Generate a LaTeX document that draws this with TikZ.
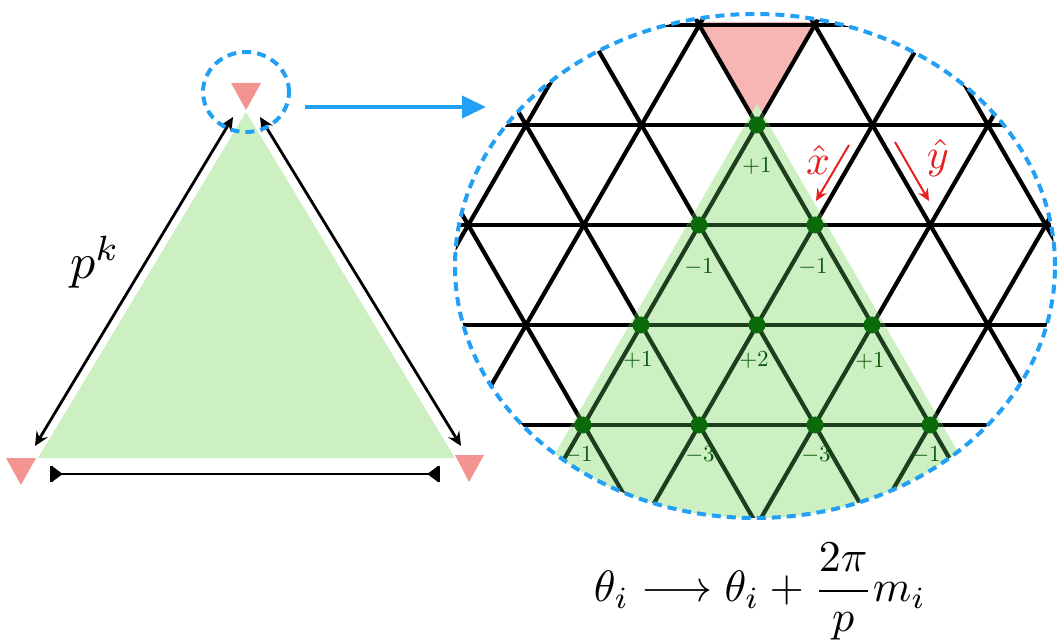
\documentclass[tikz,border=0pt]{standalone}
\usetikzlibrary{arrows.meta}
\definecolor{lgreen}{HTML}{CDF0C3}
\definecolor{dgreen}{HTML}{0B6B0B}
\definecolor{lined}{HTML}{1E3F1E}
\definecolor{pinkr}{HTML}{F49490}
\definecolor{pinkl}{HTML}{F7B6B4}
\definecolor{bl}{HTML}{22A0F5}
\definecolor{redar}{HTML}{E62020}
\tikzset{lat/.style={line width=4.2pt},
  dot/.style={circle,fill=dgreen,inner sep=0pt,minimum size=17pt},
  num/.style={text=dgreen!80!black,scale=2.3,inner sep=0pt},
  side/.style={line width=2.8pt,{Stealth[length=14pt,width=13pt,inset=5pt]}-{Stealth[length=14pt,width=13pt,inset=5pt]}},
  dashcirc/.style={bl,line width=4pt,dash pattern=on 9pt off 6pt}}
\newcommand{\latgrid}{%
\foreach \k in {0,...,5} \draw[lat] (440,25+100*\k) -- (1070,25+100*\k);
\foreach \j in {-9,...,9} {
  \draw[lat] ({757+115.5*\j-57.75*6},{125-600}) -- ({757+115.5*\j+57.75*6},{125+600});
  \draw[lat] ({757+115.5*\j+57.75*6},{125-600}) -- ({757+115.5*\j-57.75*6},{125+600});
}}
\begin{document}
\begin{tikzpicture}[x=1pt,y=-1pt]
\useasboundingbox (0,0) rectangle (1061,644);
% left triangle
\fill[lgreen] (246,112) -- (38,458) -- (455,458) -- cycle;
\fill[pinkr] (231,83) -- (261,83) -- (246,110) -- cycle;
\fill[pinkr] (6,458) -- (36,458) -- (21,485) -- cycle;
\fill[pinkr] (455,455) -- (484,455) -- (469,482) -- cycle;
\coordinate (la) at (35,446); \coordinate (lb) at (233,117);
\coordinate (ra) at (260,117); \coordinate (rb) at (461,446);
\draw[side] (la) -- (lb);
\draw[side] (ra) -- (rb);
\coordinate (ba) at (50,474); \coordinate (bb) at (440,474);
\draw[line width=2.8pt,{Bar[width=16pt]Triangle[reversed,length=10pt,width=14pt]}-{Triangle[reversed,length=10pt,width=14pt]Bar[width=16pt]}] (ba) -- (bb);
\node[scale=5] (pk) at (95,262) {$p^k$};
\draw[dashcirc] (246,92) ellipse [x radius=43pt,y radius=40pt];
\coordinate (aa) at (305,107); \coordinate (ab) at (486,107);
\draw[bl,line width=4pt,-{Triangle[length=24pt,width=22pt]}] (aa) -- (ab);
% zoomed lattice
\begin{scope}
\clip (755,266) ellipse [x radius=300pt,y radius=252pt];
\fill[pinkl] (699,22) -- (815,22) -- (757,122) -- cycle;
\begin{scope}[black]\latgrid\end{scope}
\fill[lgreen] (757,104) -- (460,618) -- (1054,618) -- cycle;
\clip (757,104) -- (460,618) -- (1054,618) -- cycle;
\begin{scope}[lined]\latgrid\end{scope}
\end{scope}
\draw[dashcirc] (755,266) ellipse [x radius=300pt,y radius=252pt];
\node[dot] (n1) at (757,125) {};
\node[dot] (n2) at (699,225) {}; \node[dot] (n3) at (815,225) {};
\node[dot] (n4) at (641,325) {}; \node[dot] (n5) at (757,325) {}; \node[dot] (n6) at (872,325) {};
\node[dot] (n7) at (583,425) {}; \node[dot] (n8) at (699,425) {}; \node[dot] (n9) at (815,425) {}; \node[dot] (n10) at (930,425) {};
\node[num] at (757,166) {$+1$};
\node[num] at (699,267) {$-1$}; \node[num] at (813,267) {$-1$};
\node[num] at (638,360) {$+1$}; \node[num] at (754,360) {$+2$}; \node[num] at (870,361) {$+1$};
\node[num] at (578,455) {$-1$}; \node[num] at (700,455) {$-3$}; \node[num] at (816,455) {$-3$}; \node[num] at (926,455) {$-1$};
\coordinate (xa) at (849,145); \coordinate (xb) at (816,201);
\coordinate (ya) at (895,142); \coordinate (yb) at (929,201);
\draw[redar,line width=2pt,-{Stealth[length=12pt,width=11pt]}] (xa) -- (xb);
\draw[redar,line width=2pt,-{Stealth[length=12pt,width=11pt]}] (ya) -- (yb);
\node[text=redar,scale=4.2] (xl) at (818,160) {$\hat x$};
\node[text=redar,scale=4.2] (yl) at (938,158) {$\hat y$};
\node[scale=4.4] (eq) at (760,592) {$\theta_i \longrightarrow \theta_i + \displaystyle\frac{2\pi}{p}m_i$};
\end{tikzpicture}
\end{document}
